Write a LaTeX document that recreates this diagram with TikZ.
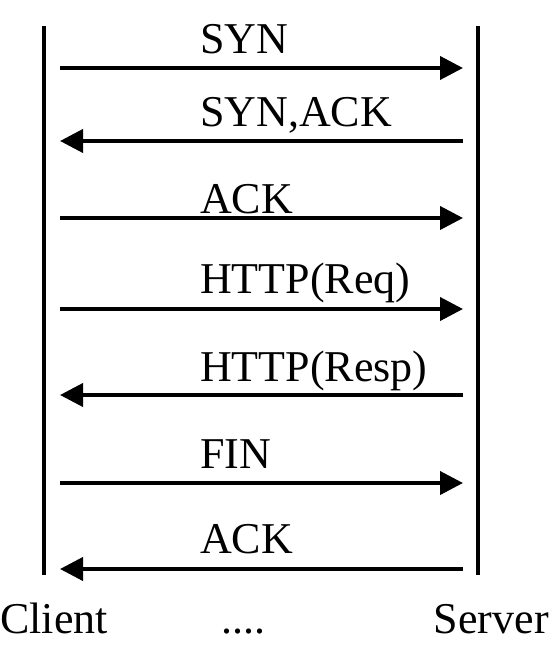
\documentclass[tikz,border=0pt]{standalone}
\usepackage{fontspec}
\setmainfont{Liberation Serif}
\usetikzlibrary{arrows.meta}
\begin{document}
\begin{tikzpicture}[x=1pt,y=-1pt,
  lifeline/.style={line width=4pt},
  msg/.style={line width=4pt,-{Triangle[length=23pt,width=23pt]}},
  lbl/.style={anchor=base west,inner sep=0pt,font=\fontsize{44pt}{48pt}\selectfont}]
\useasboundingbox (0,0) rectangle (554,652);
% lifelines
\coordinate (ctop) at (44,26);
\coordinate (cbot) at (44,575);
\coordinate (stop) at (478,26);
\coordinate (sbot) at (478,575);
\draw[lifeline] (ctop) -- (cbot);
\draw[lifeline] (stop) -- (sbot);
% message end points
\foreach \i/\y in {1/68,2/141,3/218,4/309,5/395,6/483,7/569}{
  \coordinate (c\i) at (60,\y);
  \coordinate (s\i) at (463,\y);
}
\draw[msg] (c1) -- (s1);
\draw[msg] (s2) -- (c2);
\draw[msg] (c3) -- (s3);
\draw[msg] (c4) -- (s4);
\draw[msg] (s5) -- (c5);
\draw[msg] (c6) -- (s6);
\draw[msg] (s7) -- (c7);
% labels
\node[lbl] (l1) at (200,54) {SYN};
\node[lbl] (l2) at (200,127) {SYN,ACK};
\node[lbl] (l3) at (200,214) {ACK};
\node[lbl] (l4) at (200,293) {HTTP(Req)};
\node[lbl] (l5) at (200,381) {HTTP(Resp)};
\node[lbl] (l6) at (200,468) {FIN};
\node[lbl] (l7) at (200,553) {ACK};
\node[lbl] (client) at (0,633) {Client};
\node[lbl,anchor=base east] (server) at (549,633) {Server};
\node[lbl] (dots) at (221,633) {....};
\end{tikzpicture}
\end{document}
